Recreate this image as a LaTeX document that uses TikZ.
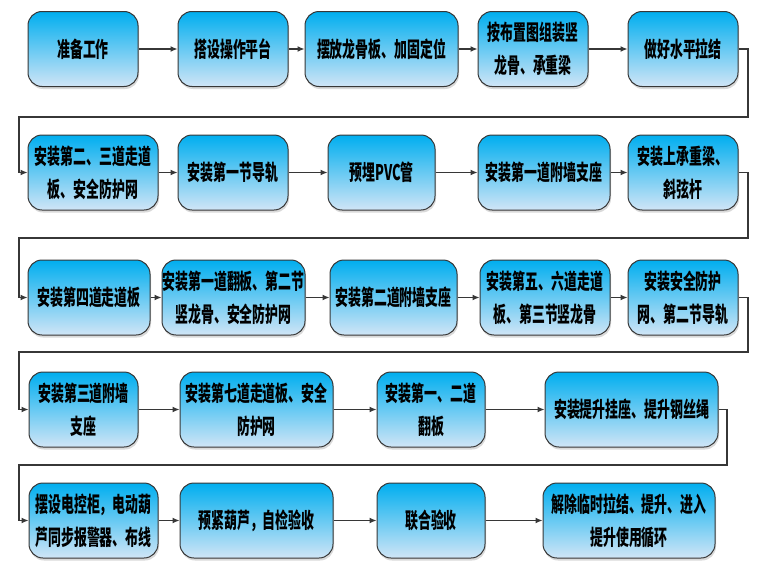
\documentclass[tikz,border=0pt]{standalone}
\usepackage{fontspec}
\newfontfamily\cjk[FakeStretch=0.6]{Noto Sans CJK SC}
\usetikzlibrary{arrows.meta,shadows}
\definecolor{boxtop}{RGB}{0,174,239}
\definecolor{boxbot}{RGB}{208,229,246}
\definecolor{edge}{RGB}{55,55,55}
\tikzset{
  stepbox/.style={draw=edge, line width=1pt, rounded corners=14pt,
    top color=boxtop, bottom color=boxbot, minimum height=75pt,
    inner sep=0pt, align=center,
    font=\cjk\bfseries\fontsize{21.5}{33}\selectfont,
    drop shadow={shadow xshift=1pt, shadow yshift=-2.5pt, opacity=0.25, fill=black!60}},
  arr/.style={draw=edge, line width=1.2pt, -{Latex[length=7pt,width=6pt]}}
}
\begin{document}
\begin{tikzpicture}[x=1pt,y=-1pt]
\useasboundingbox (0,0) rectangle (760,570);
% row 1
\node[stepbox, minimum width=110pt] (b1) at (83,49) {准备工作};
\node[stepbox, minimum width=110pt] (b2) at (233,49) {搭设操作平台};
\node[stepbox, minimum width=153pt] (b3) at (381.5,49) {摆放龙骨板、加固定位};
\node[stepbox, minimum width=110pt] (b4) at (533,49) {按布置图组装竖\\龙骨、承重梁};
\node[stepbox, minimum width=110pt] (b5) at (683,49) {做好水平拉结};
% row 2
\node[stepbox, minimum width=130pt] (b6) at (93,172.5) {安装第二、三道走道\\板、安全防护网};
\node[stepbox, minimum width=110pt] (b7) at (233,172.5) {安装第一节导轨};
\node[stepbox, minimum width=107pt] (b8) at (381.5,172.5) {预埋PVC管};
\node[stepbox, minimum width=132pt] (b9) at (544,172.5) {安装第一道附墙支座};
\node[stepbox, minimum width=110pt] (b10) at (683,172.5) {安装上承重梁、\\斜弦杆};
% row 3
\node[stepbox, minimum width=122pt] (b11) at (89,297.5) {安装第四道走道板};
\node[stepbox, minimum width=143pt] (b12) at (233.5,297.5) {安装第一道翻板、第二节\\竖龙骨、安全防护网};
\node[stepbox, minimum width=127pt] (b13) at (393.5,297.5) {安装第二道附墙支座};
\node[stepbox, minimum width=130pt] (b14) at (545,297.5) {安装第五、六道走道\\板、第三节竖龙骨};
\node[stepbox, minimum width=110pt] (b15) at (683,297.5) {安装安全防护\\网、第二节导轨};
% row 4
\node[stepbox, minimum width=109pt] (b16) at (83.5,409.5) {安装第三道附墙\\支座};
\node[stepbox, minimum width=153pt] (b17) at (256.5,409.5) {安装第七道走道板、安全\\防护网};
\node[stepbox, minimum width=108pt] (b18) at (431,409.5) {安装第一、二道\\翻板};
\node[stepbox, minimum width=173pt] (b19) at (631.5,409.5) {安装提升挂座、提升钢丝绳};
% row 5
\node[stepbox, minimum width=129pt] (b20) at (93.5,520.5) {摆设电控柜，电动葫\\芦同步报警器、布线};
\node[stepbox, minimum width=153pt] (b21) at (256.5,520.5) {预紧葫芦，自检验收};
\node[stepbox, minimum width=108pt] (b22) at (431,520.5) {联合验收};
\node[stepbox, minimum width=172pt] (b23) at (629,520.5) {解除临时拉结、提升、进入\\提升使用循环};
% turn points
\coordinate (r1) at (748,117); \coordinate (l1) at (19,117);
\coordinate (r2) at (748,238); \coordinate (l2) at (19,238);
\coordinate (r3) at (748,352); \coordinate (l3) at (19,352);
\coordinate (r4) at (727,465); \coordinate (l4) at (19,465);
% connectors
\draw[arr] (b1) -- (b2);
\draw[arr] (b2) -- (b3);
\draw[arr] (b3) -- (b4);
\draw[arr] (b4) -- (b5);
\draw[arr] (b5.east) -| (r1) -- (l1) |- (b6.west);
\draw[arr] (b6) -- (b7);
\draw[arr] (b7) -- (b8);
\draw[arr] (b8) -- (b9);
\draw[arr] (b9) -- (b10);
\draw[arr] (b10.east) -| (r2) -- (l2) |- (b11.west);
\draw[arr] (b11) -- (b12);
\draw[arr] (b12) -- (b13);
\draw[arr] (b13) -- (b14);
\draw[arr] (b14) -- (b15);
\draw[arr] (b15.east) -| (r3) -- (l3) |- (b16.west);
\draw[arr] (b16) -- (b17);
\draw[arr] (b17) -- (b18);
\draw[arr] (b18) -- (b19);
\draw[arr] (b19.east) -| (r4) -- (l4) |- (b20.west);
\draw[arr] (b20) -- (b21);
\draw[arr] (b21) -- (b22);
\draw[arr] (b22) -- (b23);
\end{tikzpicture}
\end{document}
